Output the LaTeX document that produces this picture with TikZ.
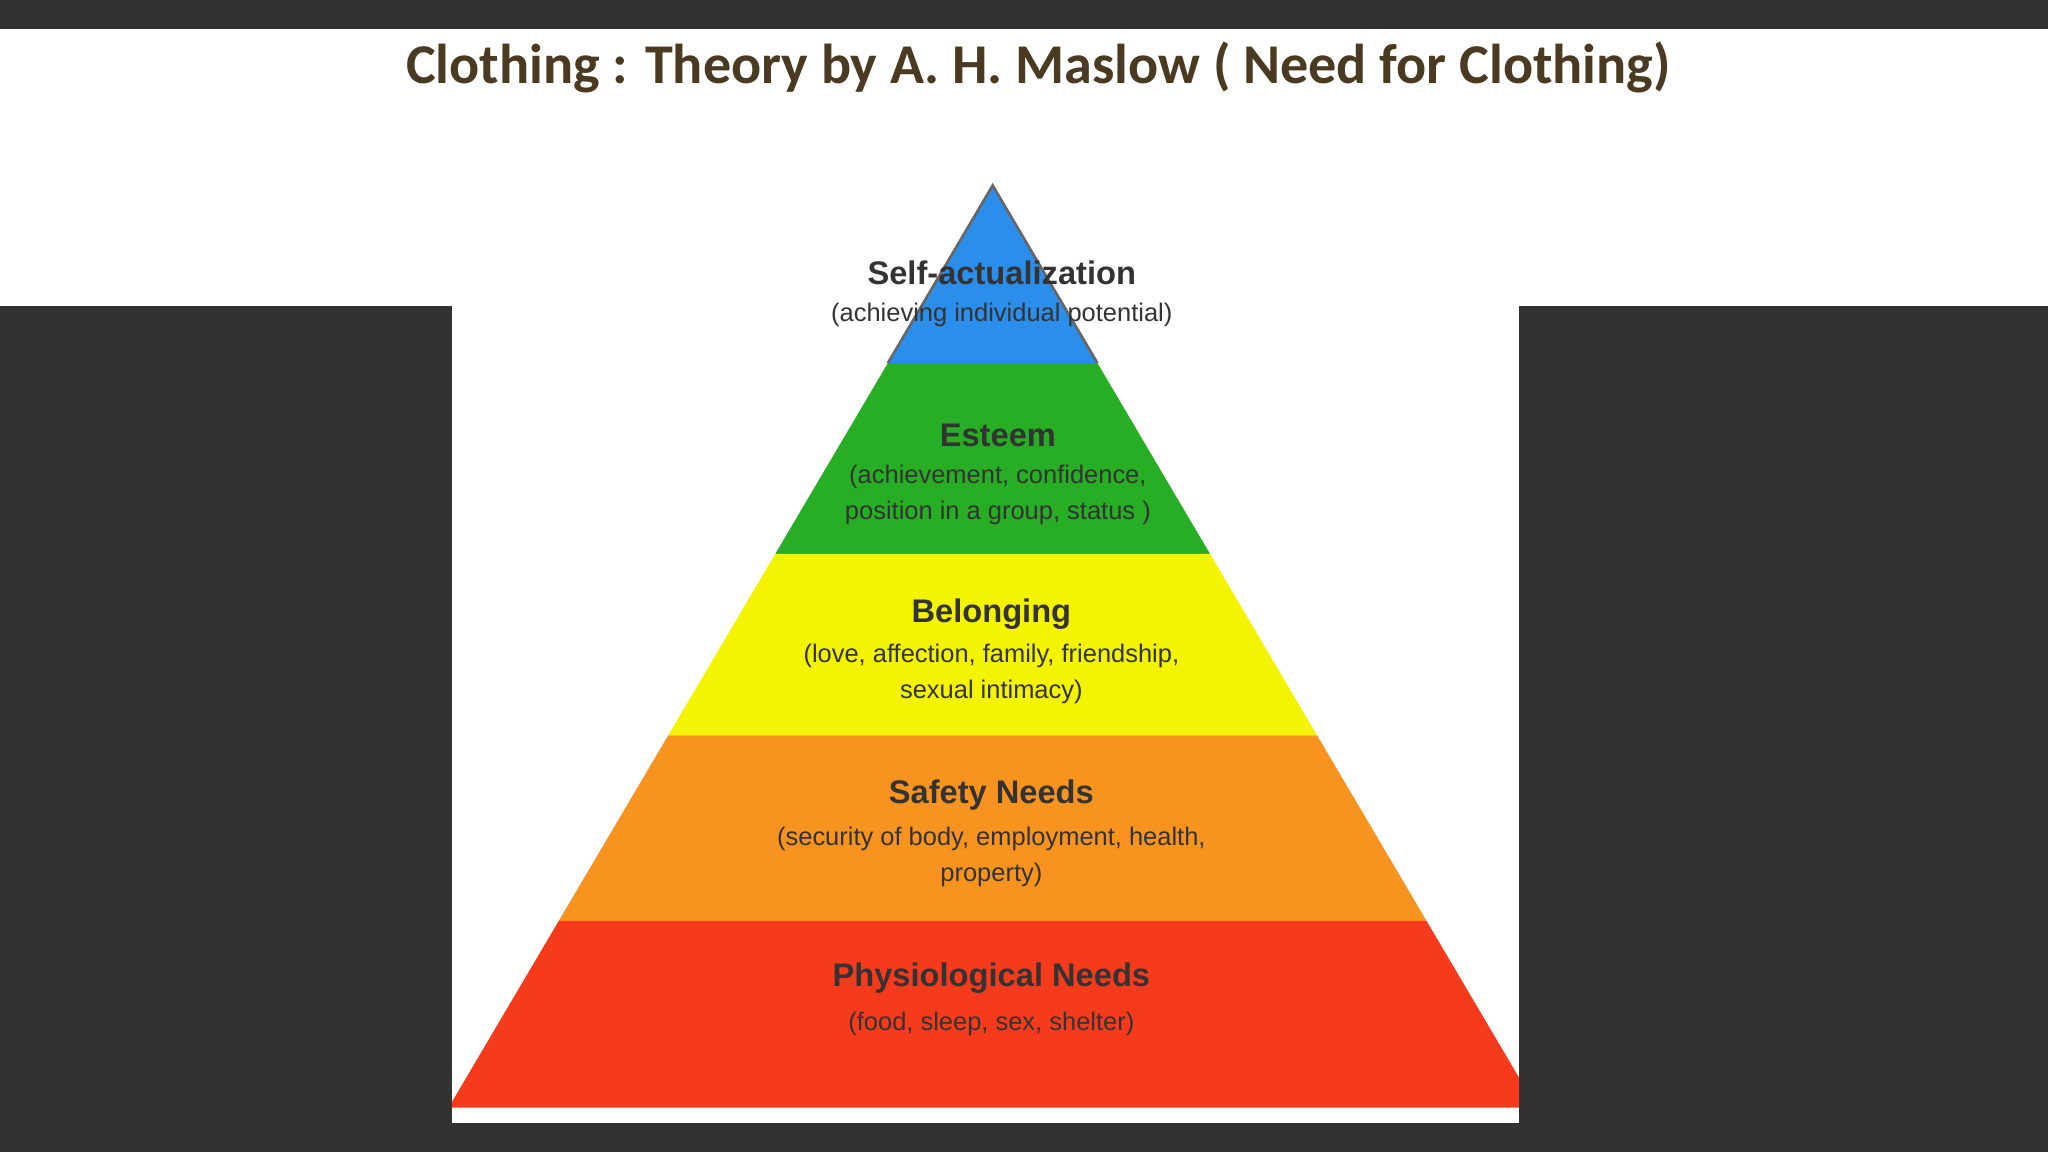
\documentclass[tikz,border=0pt]{standalone}
\usepackage{fontspec}
\setmainfont{Liberation Sans}
\newfontfamily\titlefont{Carlito}
\begin{document}
\begin{tikzpicture}[x=1pt,y=-1pt,
  head/.style={font=\bfseries\fontsize{25}{28}\selectfont, text=black!80},
  sub/.style={font=\fontsize{19.5}{27}\selectfont, text=black!80, align=center}]
\definecolor{bg}{HTML}{333132}
\definecolor{tbrown}{HTML}{4B3A22}
\fill[bg] (0,0) rectangle (1568,882);
\fill[white] (0,22) rectangle (1568,234);
\fill[white] (346,234) rectangle (1163,860);
\node[font=\titlefont\bfseries\fontsize{43}{48}\selectfont, text=tbrown] (title) at (795,52) {Clothing : Theory by A. H. Maslow ( Need for Clothing)};
\begin{scope}
\clip (346,100) rectangle (1163,848);
\coordinate (A) at (760,142);
\def\band#1#2#3{\fill[#3] ({760-0.59*(#1-142)},#1) -- ({760+0.59*(#1-142)},#1) -- ({760+0.59*(#2-142)},#2) -- ({760-0.59*(#2-142)},#2) -- cycle;}
\definecolor{cb}{HTML}{2B8EEB}\definecolor{cg}{HTML}{27AE25}\definecolor{cy}{HTML}{F4F400}
\definecolor{co}{HTML}{F7931E}\definecolor{cr}{HTML}{F53B1B}
\fill[cb] (A) -- ({760-0.59*136},278) -- ({760+0.59*136},278) -- cycle;
\band{278}{424}{cg}
\band{424}{563}{cy}
\band{563}{705}{co}
\band{705}{848}{cr}
\draw[gray!80!black, line width=2] ({760-0.59*136},278) -- (A) -- ({760+0.59*136},278);
\end{scope}
\node[head] (h1) at (767,209) {Self-actualization};
\node[sub] (s1) at (767,241) {(achieving individual potential)};
\node[head] (h2) at (764,333) {Esteem};
\node[sub] (s2) at (764,379) {(achievement, confidence,\\position in a group, status )};
\node[head] (h3) at (759,470) {Belonging};
\node[sub] (s3) at (759,516) {(love, affection, family, friendship,\\sexual intimacy)};
\node[head] (h4) at (759,609) {Safety Needs};
\node[sub] (s4) at (759,656) {(security of body, employment, health,\\property)};
\node[head] (h5) at (759,749) {Physiological Needs};
\node[sub] (s5) at (759,784) {(food, sleep, sex, shelter)};
\end{tikzpicture}
\end{document}
